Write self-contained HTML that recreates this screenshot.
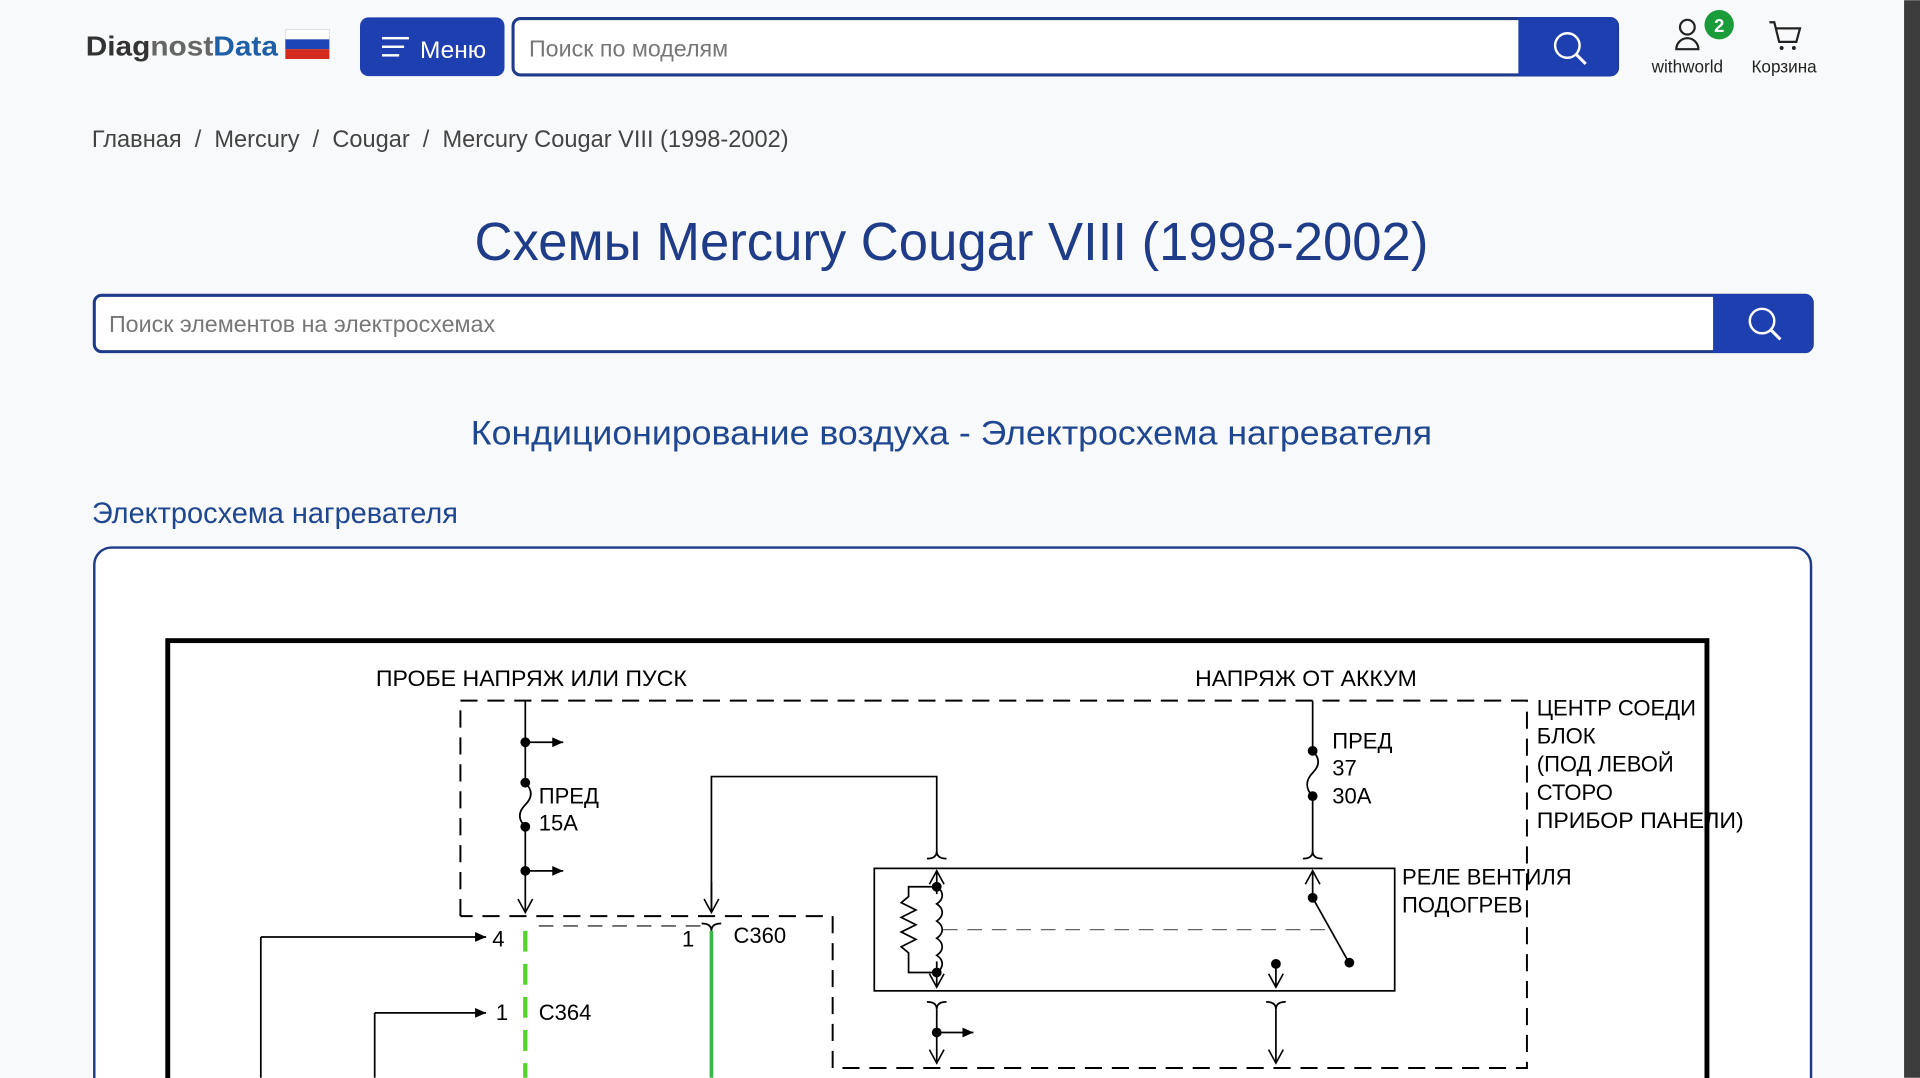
<!DOCTYPE html>
<html><head><meta charset="utf-8"><style>
html,body{margin:0;padding:0;background:#f8f9fa;overflow:hidden}
svg{display:block}
text{font-family:"Liberation Sans","DejaVu Sans",sans-serif}
</style></head><body>
<svg width="1920" height="1078" viewBox="0 0 1568 880" xmlns="http://www.w3.org/2000/svg">
<defs>
<marker id="ar" markerWidth="10" markerHeight="10" refX="9" refY="5" orient="auto" markerUnits="userSpaceOnUse"><path d="M0,1 L9,5 L0,9 z" fill="#000"/></marker>
<marker id="av" markerWidth="14" markerHeight="14" refX="12" refY="7" orient="auto" markerUnits="userSpaceOnUse"><path d="M1,1 L12,7 L1,13" fill="none" stroke="#000" stroke-width="1.3"/></marker>
</defs>
<rect width="1568" height="880" fill="#f8f9fa"/>
<!-- header -->
<text x="70" y="45" font-size="23" font-weight="bold" fill="#333" textLength="157" lengthAdjust="spacingAndGlyphs">Diag<tspan fill="#666">nost</tspan><tspan fill="#1f5fa8">Data</tspan></text>
<rect x="233" y="24" width="36" height="8" fill="#fff" stroke="#ccc" stroke-width="0.5"/>
<rect x="233" y="32" width="36" height="8" fill="#1c45b8"/>
<rect x="233" y="40" width="36" height="8" fill="#d52b1e"/>
<rect x="294" y="14" width="118" height="48" rx="7" fill="#1d3fb0"/>
<rect x="312" y="30" width="22" height="2" fill="#fff"/><rect x="312" y="37" width="18" height="2" fill="#fff"/><rect x="312" y="44" width="14" height="2" fill="#fff"/>
<text x="343" y="47" font-size="20" fill="#fff">Меню</text>
<rect x="419" y="15" width="902" height="46" rx="6" fill="#fff" stroke="#1e3a8a" stroke-width="2.5"/>
<path d="M1240,14 H1315 a6,6 0 0 1 6,6 V56 a6,6 0 0 1 -6,6 H1240 z" fill="#1d3fb0"/>
<circle cx="1280" cy="37" r="10" fill="none" stroke="#fff" stroke-width="2"/><line x1="1287" y1="44" x2="1295" y2="52" stroke="#fff" stroke-width="2.5"/>
<text x="432" y="46" font-size="19" fill="#777">Поиск по моделям</text>
<circle cx="1378" cy="22" r="6" fill="none" stroke="#222" stroke-width="1.8"/>
<path d="M1369,40 a9,9 0 0 1 18,0 z" fill="none" stroke="#222" stroke-width="1.8"/>
<circle cx="1404" cy="20" r="12" fill="#1a9c3a"/><text x="1404" y="26" font-size="15" fill="#fff" text-anchor="middle" font-weight="bold">2</text>
<text x="1378" y="59" font-size="14" fill="#222" text-anchor="middle">withworld</text>
<path d="M1445,18 h4 l4,16 h14 l3,-11 h-19" fill="none" stroke="#222" stroke-width="1.8"/>
<circle cx="1455" cy="39" r="1.6" fill="#222"/><circle cx="1465" cy="39" r="1.6" fill="#222"/>
<text x="1457" y="59" font-size="14" fill="#222" text-anchor="middle">Корзина</text>
<!-- breadcrumb -->
<text x="75" y="120" font-size="20" fill="#444" xml:space="preserve" textLength="569" lengthAdjust="spacingAndGlyphs">Главная  /  Mercury  /  Cougar  /  Mercury Cougar VIII (1998-2002)</text>
<text x="777" y="212" font-size="44" fill="#1f3c88" text-anchor="middle" textLength="779" lengthAdjust="spacingAndGlyphs">Схемы Mercury Cougar VIII (1998-2002)</text>
<rect x="77" y="241" width="1403" height="46" rx="6" fill="#fff" stroke="#1e3a8a" stroke-width="2.5"/>
<path d="M1399,240 H1474 a6,6 0 0 1 6,6 V282 a6,6 0 0 1 -6,6 H1399 z" fill="#1d3fb0"/>
<circle cx="1439" cy="262" r="10" fill="none" stroke="#fff" stroke-width="2"/><line x1="1446" y1="269" x2="1454" y2="277" stroke="#fff" stroke-width="2.5"/>
<text x="89" y="271" font-size="19" fill="#777">Поиск элементов на электросхемах</text>
<text x="777" y="363" font-size="28" fill="#1f4690" text-anchor="middle" textLength="785" lengthAdjust="spacingAndGlyphs">Кондиционирование воздуха - Электросхема нагревателя</text>
<text x="75" y="427" font-size="24" fill="#1f4690" textLength="299" lengthAdjust="spacingAndGlyphs">Электросхема нагревателя</text>
<rect x="77" y="447" width="1402" height="460" rx="14" fill="#fff" stroke="#1e3a8a" stroke-width="2"/>
<!-- diagram -->
<rect x="137" y="523" width="1257" height="400" fill="none" stroke="#000" stroke-width="4"/>
<g font-size="18" fill="#000">
<text x="307" y="560" textLength="254" lengthAdjust="spacingAndGlyphs">ПРОБЕ НАПРЯЖ ИЛИ ПУСК</text>
<text x="976" y="560" textLength="181" lengthAdjust="spacingAndGlyphs">НАПРЯЖ ОТ АККУМ</text>
<text x="1255" y="584">ЦЕНТР СОЕДИ</text>
<text x="1255" y="607">БЛОК</text>
<text x="1255" y="630">(ПОД ЛЕВОЙ</text>
<text x="1255" y="653">СТОРО</text>
<text x="1255" y="676" textLength="169" lengthAdjust="spacingAndGlyphs">ПРИБОР ПАНЕЛИ)</text>
<text x="440" y="656">ПРЕД</text><text x="440" y="678">15A</text>
<text x="1088" y="611">ПРЕД</text><text x="1088" y="633">37</text><text x="1088" y="656">30A</text>
<text x="1145" y="722">РЕЛЕ ВЕНТИЛЯ</text><text x="1145" y="745">ПОДОГРЕВ</text>
<text x="557" y="773">1</text><text x="599" y="770">C360</text>
<text x="402" y="773">4</text>
<text x="405" y="833">1</text><text x="440" y="833">C364</text>
</g>
<g fill="none" stroke="#000" stroke-width="1.6" stroke-dasharray="14 8">
<path d="M376,748 V572 H1247 V872 H680 V748 H376"/>
</g>
<line x1="440" y1="756" x2="578" y2="756" stroke="#555" stroke-width="1.3" stroke-dasharray="12 8"/>
<line x1="770" y1="759" x2="1085" y2="759" stroke="#666" stroke-width="1" stroke-dasharray="12 8"/>
<g fill="none" stroke="#000" stroke-width="1.4">
<line x1="429" y1="572" x2="429" y2="639"/>
<path d="M429,639 c6,6 6,12 0,18 c-6,6 -6,12 0,18"/>
<line x1="429" y1="675" x2="429" y2="745" marker-end="url(#av)"/>
<line x1="429" y1="606" x2="460" y2="606" marker-end="url(#ar)"/>
<line x1="429" y1="711" x2="460" y2="711" marker-end="url(#ar)"/>
<path d="M581,745 V634 H765 V697" />
<line x1="581" y1="720" x2="581" y2="745" marker-end="url(#av)"/>
<path d="M573,754 q8,0 8,6 q0,-6 8,-6"/>
<path d="M757,701 q8,0 8,-6 q0,6 8,6"/>
<path d="M1064,701 q8,0 8,-6 q0,6 8,6"/>
<rect x="714" y="709" width="425" height="100"/>
<line x1="765" y1="730" x2="765" y2="711" marker-end="url(#av)"/>
<line x1="765" y1="785" x2="765" y2="806" marker-end="url(#av)"/>
<path d="M765,724 c6,4 6,10 0,14 c6,4 6,10 0,14 c6,4 6,10 0,14 c6,4 6,10 0,14 c6,4 6,10 0,14"/>
<path d="M765,724 H742 V732 l-6,5 l12,6 l-12,6 l12,6 l-12,6 l12,6 l-12,6 l6,5 V794 H765"/>
<path d="M757,818 q8,0 8,6 q0,-6 8,-6"/>
<line x1="765" y1="824" x2="765" y2="868" marker-end="url(#av)"/>
<line x1="765" y1="843" x2="795" y2="843" marker-end="url(#ar)"/>
<line x1="1072" y1="572" x2="1072" y2="613"/>
<path d="M1072,613 c6,6 6,12 0,18 c-6,6 -6,13 0,19"/>
<line x1="1072" y1="650" x2="1072" y2="697"/>
<line x1="1072" y1="730" x2="1072" y2="711" marker-end="url(#av)"/>
<line x1="1072" y1="733" x2="1100" y2="783"/>
<line x1="1042" y1="787" x2="1042" y2="806" marker-end="url(#av)"/>
<path d="M1034,818 q8,0 8,6 q0,-6 8,-6"/>
<line x1="1042" y1="824" x2="1042" y2="868" marker-end="url(#av)"/>
<line x1="213" y1="880" x2="213" y2="765"/>
<line x1="213" y1="765" x2="397" y2="765" marker-end="url(#ar)"/>
<line x1="306" y1="880" x2="306" y2="827"/>
<line x1="306" y1="827" x2="397" y2="827" marker-end="url(#ar)"/>
</g>
<g fill="#000">
<circle cx="429" cy="606" r="4"/><circle cx="429" cy="639" r="4"/><circle cx="429" cy="675" r="4"/><circle cx="429" cy="711" r="4"/>
<circle cx="765" cy="724" r="4"/><circle cx="765" cy="794" r="4"/><circle cx="765" cy="843" r="4"/>
<circle cx="1072" cy="613" r="4"/><circle cx="1072" cy="650" r="4"/><circle cx="1072" cy="733" r="4"/><circle cx="1102" cy="786" r="4"/><circle cx="1042" cy="787" r="4"/>
</g>
<line x1="581" y1="760" x2="581" y2="880" stroke="#3bb54a" stroke-width="3"/>
<line x1="429" y1="760" x2="429" y2="880" stroke="#55d22e" stroke-width="3.5" stroke-dasharray="17 10"/>
<!-- scrollbar -->
<rect x="1555" y="0" width="13" height="880" fill="#3c3c3c"/>
</svg>
</body></html>
